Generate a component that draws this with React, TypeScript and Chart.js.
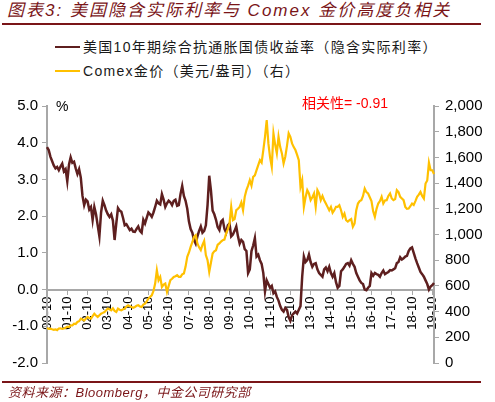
import React, { useEffect, useRef } from "react";
import { Chart, registerables } from "chart.js";

Chart.register(...registerables);

// Monthly observations from 2000-10 through 2019-11
const START_YEAR = 2000;
const START_MONTH = 10;
const MONTH_COUNT = 230;

const months: string[] = [];
for (let i = 0; i < MONTH_COUNT; i++) {
  const t = START_MONTH - 1 + i;
  const yy = (START_YEAR + Math.floor(t / 12)) % 100;
  const mm = (t % 12) + 1;
  months.push(`${String(yy).padStart(2, "0")}-${String(mm).padStart(2, "0")}`);
}

// 10Y TIPS yield (implied real rate), %
const realYield: number[] = [
  3.88, 3.8, 3.62, 3.5, 3.38, 3.3, 3.34, 3.25, 3.35, 3.43, 3.22, 3.28,
  2.95, 3.4, 3.6, 3.45, 3.48, 3.3, 3.15, 3.28, 3.05, 2.55, 2.3, 2.45,
  2.4, 2.18, 2.25, 1.9, 2.25, 2.05, 1.75, 1.45, 2.1, 2.42, 2.3, 2.15,
  2.05, 1.98, 2.05, 1.88, 1.35, 1.8, 2.22, 2.15, 2.12, 1.95, 1.75, 1.78,
  1.7, 1.62, 1.66, 1.58, 1.57, 1.65, 1.72, 1.6, 1.55, 1.9, 1.8, 1.95,
  2.1, 2.05, 1.98, 2.1, 2.25, 2.42, 2.35, 2.32, 2.6, 2.45, 2.25, 2.35,
  2.42, 2.38, 2.3, 2.42, 2.45, 2.28, 2.3, 2.6, 2.82, 2.55, 2.42, 2.2,
  1.85, 1.65, 1.55, 1.35, 1.25, 1.45, 1.6, 1.72, 1.55, 1.6, 1.75, 2.3,
  3.1, 2.7, 2.15, 2.05, 1.9, 1.7, 1.62, 1.85, 1.9, 1.65, 1.55, 1.75,
  1.8, 1.45, 1.5, 1.6, 1.72, 1.45, 1.25, 1.35, 1.3, 1.1, 1.05, 0.45,
  0.55, 1.05, 1.2, 1.4, 0.9, 0.95, 0.8, 0.7, 0.45, -0.05, 0.25, 0.15,
  0.05, 0.1, -0.1, -0.05, -0.2, -0.3, -0.45, -0.55, -0.6, -0.5, -0.55, -0.75,
  -0.85, -0.7, -0.65, -0.6, -0.65, -0.55, -0.45, 0.35, 0.9, 0.75, 0.8, 0.95,
  0.75, 0.62, 0.7, 0.72, 0.55, 0.45, 0.4, 0.35, 0.55, 0.6, 0.5, 0.62,
  0.45, 0.35, 0.45, 0.2, 0.05, 0.1, 0.5, 0.55, 0.62, 0.7, 0.72, 0.65,
  0.8, 0.7, 0.62, 0.45, 0.35, 0.25, 0.18, 0.15, 0.0, -0.02, 0.05, 0.1,
  0.45, 0.38, 0.45, 0.42, 0.4, 0.35, 0.45, 0.52, 0.42, 0.45, 0.48, 0.53,
  0.52, 0.55, 0.58, 0.72, 0.75, 0.88, 0.82, 0.85, 0.9, 0.92, 1.05, 1.12,
  1.15, 1.0, 0.85, 0.72, 0.6, 0.48, 0.42, 0.35, 0.25, 0.15, 0.0, 0.08,
  0.12, 0.18,
];

// Comex gold, USD/oz (right axis)
const goldPrice: number[] = [
  272, 265, 268, 262, 258, 262, 256, 268, 270, 265, 268, 275,
  282, 280, 293, 292, 306, 303, 319, 325, 345, 338, 332, 345,
  358, 350, 345, 365, 384, 370, 358, 372, 384, 390, 397, 410,
  423, 418, 410, 425, 405, 397, 423, 415, 410, 418, 423, 440,
  449, 442, 436, 430, 436, 445, 449, 440, 436, 455, 462, 480,
  501, 515, 527, 560, 618, 722, 644, 670, 592, 610, 618, 553,
  600, 644, 655, 670, 675, 683, 670, 670, 690, 696, 750, 826,
  860, 904, 940, 982, 995, 930, 900, 878, 920, 950, 840, 800,
  709, 780, 852, 870, 878, 920, 930, 945, 956, 960, 1008, 1040,
  1086, 1215, 1112, 1120, 1189, 1200, 1215, 1250, 1189, 1293, 1345, 1380,
  1423, 1380, 1449, 1460, 1501, 1540, 1579, 1560, 1657, 1760, 1891, 1709,
  1600, 1527, 1787, 1700, 1631, 1761, 1680, 1631, 1553, 1605, 1690, 1787,
  1760, 1709, 1680, 1657, 1620, 1579, 1371, 1423, 1215, 1290, 1345, 1319,
  1267, 1290, 1319, 1215, 1345, 1319, 1267, 1300, 1267, 1241, 1215, 1189,
  1215, 1170, 1189, 1215, 1215, 1228, 1189, 1137, 1163, 1111, 1100, 1111,
  1120, 1060, 1086, 1189, 1241, 1260, 1267, 1300, 1358, 1330, 1319, 1290,
  1260, 1180, 1137, 1200, 1241, 1260, 1293, 1241, 1265, 1267, 1300, 1319,
  1280, 1267, 1275, 1345, 1330, 1293, 1280, 1267, 1215, 1200, 1202, 1220,
  1241, 1230, 1260, 1293, 1310, 1332, 1300, 1280, 1397, 1420, 1560, 1501,
  1500, 1470,
];

const TITLE = "图表3: 美国隐含实际利率与 Comex 金价高度负相关";
const LEGEND_REAL = "美国10年期综合抗通胀国债收益率（隐含实际利率）";
const LEGEND_GOLD = "Comex金价（美元/盎司）（右）";
const CORRELATION = "相关性= -0.91";
const SOURCE = "资料来源：Bloomberg，中金公司研究部";

const BROWN = "#5e1f1f";
const GOLD = "#ffc000";
const MAROON = "#7a1518";
const AXIS_GREY = "#a8a8a8";
const LATIN = '"Liberation Sans", Arial, "Noto Sans CJK SC", sans-serif';

export default function App() {
  const canvasRef = useRef<HTMLCanvasElement | null>(null);

  useEffect(() => {
    if (!canvasRef.current) return;
    const chart = new Chart(canvasRef.current, {
      type: "line",
      data: {
        labels: months,
        datasets: [
          {
            label: LEGEND_REAL,
            data: realYield,
            yAxisID: "y",
            borderColor: BROWN,
            borderWidth: 2.5,
            pointRadius: 0,
            tension: 0,
            order: 2,
          },
          {
            label: LEGEND_GOLD,
            data: goldPrice,
            yAxisID: "y1",
            borderColor: GOLD,
            borderWidth: 2.2,
            pointRadius: 0,
            tension: 0,
            order: 1,
          },
        ],
      },
      options: {
        animation: false,
        responsive: false,
        maintainAspectRatio: false,
        layout: { padding: { top: 106, bottom: 39, left: 0, right: 0 } },
        plugins: { legend: { display: false }, tooltip: { enabled: false } },
        scales: {
          x: {
            type: "category",
            position: { y: 0 } as any,
            grid: {
              display: true,
              drawOnChartArea: false,
              drawTicks: true,
              tickLength: 4,
              color: AXIS_GREY,
            },
            border: { display: true, color: AXIS_GREY, width: 2 },
            ticks: {
              autoSkip: false,
              minRotation: 90,
              maxRotation: 90,
              padding: 3,
              color: "#000",
              font: { family: LATIN, size: 13 },
            },
            afterBuildTicks: (axis: any) => {
              axis.ticks = axis.ticks.filter((t: any) => months[t.value].endsWith("-10"));
            },
          },
          y: {
            position: "left",
            min: -2,
            max: 5,
            grid: { drawOnChartArea: false, tickLength: 5, color: AXIS_GREY },
            border: { display: true, color: AXIS_GREY, width: 2 },
            ticks: {
              stepSize: 1,
              padding: 4,
              color: "#000",
              font: { family: LATIN, size: 15 },
              callback: (v: any) => Number(v).toFixed(1),
            },
            afterFit: (s: any) => {
              s.width = 47;
            },
          },
          y1: {
            position: "right",
            min: 0,
            max: 2000,
            grid: { drawOnChartArea: false, tickLength: 5, color: AXIS_GREY },
            border: { display: true, color: AXIS_GREY, width: 2 },
            ticks: {
              stepSize: 200,
              padding: 6,
              color: "#000",
              font: { family: LATIN, size: 15 },
              callback: (v: any) => Number(v).toLocaleString("en-US"),
            },
            afterFit: (s: any) => {
              s.width = 61;
            },
          },
        },
      },
    });
    return () => chart.destroy();
  }, []);

  const abs = (style: React.CSSProperties): React.CSSProperties => ({
    position: "absolute",
    whiteSpace: "nowrap",
    ...style,
  });

  return (
    <div
      style={{
        position: "fixed",
        left: 0,
        top: 0,
        width: 495,
        height: 402,
        background: "#fff",
        overflow: "hidden",
        fontFamily: LATIN,
      }}
    >
      <div
        style={abs({
          left: 7,
          top: 1,
          lineHeight: "20px",
          fontSize: 17,
          fontStyle: "italic",
          color: MAROON,
          letterSpacing: 2,
        })}
      >
        {TITLE}
      </div>
      <div style={abs({ left: 2, top: 23, width: 479, height: 2, background: MAROON })} />

      <div style={abs({ left: 55, top: 46, width: 25, height: 2, background: BROWN })} />
      <div
        style={abs({ left: 83, top: 38, lineHeight: "18px", fontSize: 14, letterSpacing: 1.3, color: "#1a1a1a" })}
      >
        {LEGEND_REAL}
      </div>
      <div style={abs({ left: 55, top: 70, width: 25, height: 2, background: GOLD })} />
      <div
        style={abs({ left: 83, top: 62, lineHeight: "18px", fontSize: 14, letterSpacing: 1.3, color: "#1a1a1a" })}
      >
        {LEGEND_GOLD}
      </div>

      <canvas
        ref={canvasRef}
        width={495}
        height={402}
        style={{ position: "absolute", left: 0, top: 0, width: 495, height: 402 }}
      />

      <div style={abs({ left: 56, top: 97, lineHeight: "18px", fontSize: 14, color: "#000" })}>%</div>
      <div style={abs({ left: 302, top: 94, lineHeight: "18px", fontSize: 14, color: "#ff0000" })}>
        {CORRELATION}
      </div>

      <div style={abs({ left: 2, top: 381, width: 479, height: 2, background: MAROON })} />
      <div
        style={abs({
          left: 8,
          top: 384,
          lineHeight: "18px",
          fontSize: 13,
          fontStyle: "italic",
          color: MAROON,
          letterSpacing: 0.5,
        })}
      >
        {SOURCE}
      </div>
    </div>
  );
}
